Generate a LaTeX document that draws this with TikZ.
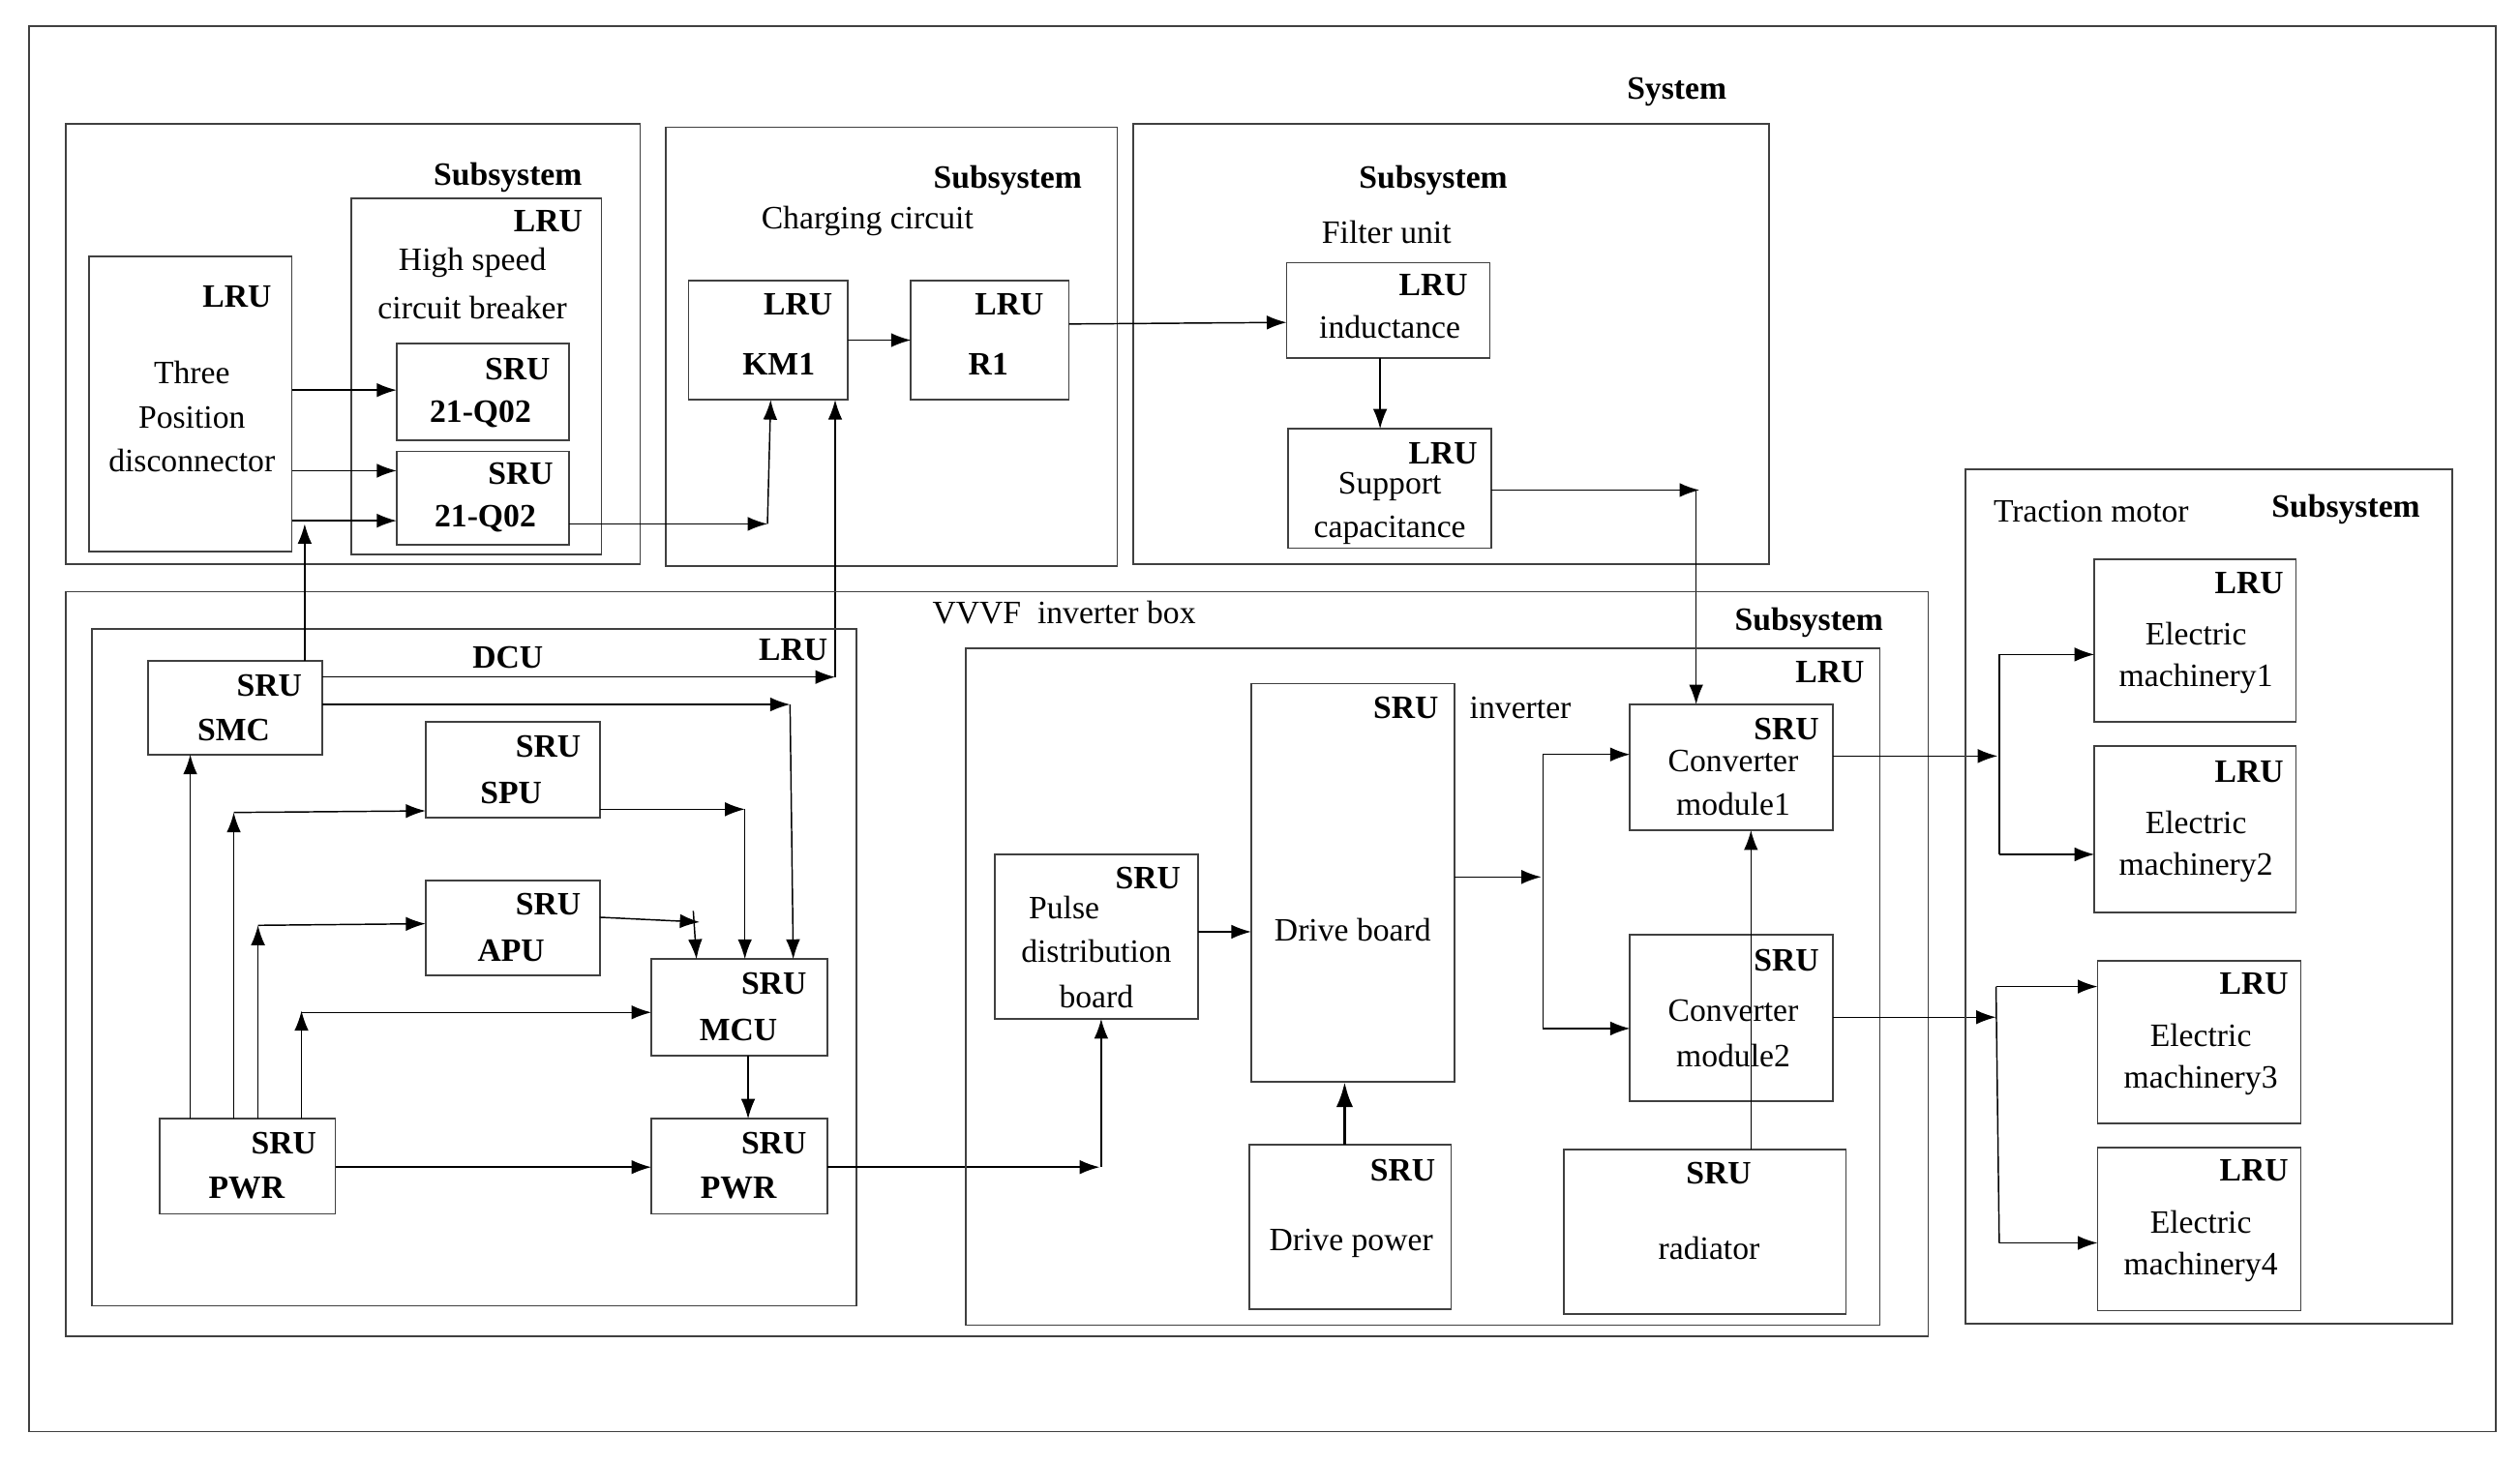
\documentclass[tikz,border=0pt]{standalone}
\usepackage{fontspec}
\setmainfont{Liberation Serif}
\usetikzlibrary{arrows.meta}
\begin{document}
\begin{tikzpicture}[x=0.02cm,y=-0.02cm,
 box/.style={draw=black!75,line width=0.6pt,inner sep=0pt,outer sep=0pt},
 t/.style={inner sep=0pt,font=\fontsize{11.5}{13}\selectfont},
 b/.style={t,font=\fontsize{11.5}{13}\selectfont\bfseries},
 ar/.style={-{Latex[length=7pt,width=5pt]},line width=0.5pt},
 ln/.style={line width=0.5pt}]
\useasboundingbox (0,0) rectangle (1563,908);
\newcommand\bx[5]{\node[box,minimum width={(#4-#2)*0.02cm},minimum height={(#5-#3)*0.02cm}] (#1) at ({(#2+#4)/2},{(#3+#5)/2}) {};}
% outer
\bx{sys}{18}{16}{1548}{888}
\node[b] at (1040,57) {System};
% subsystem 1
\bx{s1}{41}{77}{397}{350}
\node[b] at (315,110) {Subsystem};
\bx{hscb}{218}{123}{373}{344}
\node[b] at (340,137) {LRU};
\node[t] at (293,163) {High speed};
\node[t] at (293,191) {circuit breaker};
\bx{q1}{246}{213}{353}{273}
\node[b] at (321,229) {SRU};\node[b] at (298,257) {21-Q02};
\bx{q2}{246}{280}{353}{338}
\node[b] at (323,294) {SRU};\node[b] at (301,322) {21-Q02};
\bx{tpd}{55}{159}{181}{342}
\node[b] at (147,184) {LRU};
\node[t] at (119,231) {Three};\node[t] at (119,259) {Position};\node[t] at (119,286) {disconnector};
\draw[ar] (181,242) -- (246,242);
\draw[ar] (181,292) -- (246,292);
\draw[ar] (181,323) -- (246,323);
% subsystem 2
\bx{s2}{413}{79}{693}{351}
\node[b] at (625,112) {Subsystem};
\node[t] at (538,137) {Charging circuit};
\bx{km1}{427}{174}{526}{248}
\node[b] at (495,189) {LRU};\node[b] at (483,226) {KM1};
\bx{r1}{565}{174}{663}{248}
\node[b] at (626,189) {LRU};\node[b] at (613,226) {R1};
\draw[ar] (526,211) -- (565,211);
\draw[ar] (353,325) -- (476,325);
\draw[ar] (476,325) -- (478,248);
\draw[ar] (518,420) -- (518,248);
% subsystem 3
\bx{s3}{703}{77}{1097}{350}
\node[b] at (889,112) {Subsystem};
\node[t] at (860,144) {Filter unit};
\bx{ind}{798}{163}{924}{222}
\node[b] at (889,177) {LRU};\node[t] at (862,203) {inductance};
\bx{cap}{799}{266}{925}{340}
\node[b] at (895,281) {LRU};\node[t] at (862,302) {Support};\node[t] at (862,329) {capacitance};
\draw[ar] (663,201) -- (798,200);
\draw[ar] (856,222) -- (856,266);
\draw[ar] (925,304) -- (1054,304);
\draw[ar] (1052,304) -- (1052,437);
% VVVF
\bx{vvvf}{41}{367}{1196}{829}
\node[t] at (660,380) {VVVF\ \ inverter box};
\bx{dcu}{57}{390}{531}{810}
\node[b] at (315,408) {DCU};\node[b] at (492,403) {LRU};
\bx{smc}{92}{410}{200}{468}
\node[b] at (167,425) {SRU};\node[b] at (145,453) {SMC};
\bx{spu}{264}{448}{372}{507}
\node[b] at (340,463) {SRU};\node[b] at (317,492) {SPU};
\bx{apu}{264}{546}{372}{605}
\node[b] at (340,561) {SRU};\node[b] at (317,590) {APU};
\bx{mcu}{404}{595}{513}{655}
\node[b] at (480,610) {SRU};\node[b] at (458,639) {MCU};
\bx{pwl}{99}{694}{208}{753}
\node[b] at (176,709) {SRU};\node[b] at (153,737) {PWR};
\bx{pwr}{404}{694}{513}{753}
\node[b] at (480,709) {SRU};\node[b] at (458,737) {PWR};
\draw[ar] (189,410) -- (189,325);
\draw[ar] (200,420) -- (518,420);
\draw[ar] (200,437) -- (490,437);
\draw[ar] (490,437) -- (492,595);
\draw[ar] (372,502) -- (462,502);
\draw[ar] (462,502) -- (462,595);
\draw[ar] (372,569) -- (434,572);
\draw[ar] (430,565) -- (432,595);
\draw[ar] (118,694) -- (118,468);
\draw[ar] (145,694) -- (145,504);
\draw[ar] (145,504) -- (264,503);
\draw[ar] (160,694) -- (160,574);
\draw[ar] (160,574) -- (264,573);
\draw[ar] (187,694) -- (187,627);
\draw[ar] (187,628) -- (404,628);
\draw[ar] (208,724) -- (404,724);
\draw[ar] (464,655) -- (464,694);
\draw[ar] (513,724) -- (682,724);
\draw[ar] (683,724) -- (683,632);
% inverter subsystem
\node[b] at (1122,386) {Subsystem};
\bx{inv}{599}{402}{1166}{822}
\node[b] at (1135,417) {LRU};
\bx{pulse}{617}{530}{743}{632}
\node[b] at (712,545) {SRU};\node[t] at (660,563) {Pulse};\node[t] at (680,590) {distribution};\node[t] at (680,618) {board};
\bx{drv}{776}{424}{902}{671}
\node[b] at (872,439) {SRU};\node[t] at (943,439) {inverter};\node[t] at (839,577) {Drive board};
\draw[ar] (743,578) -- (776,578);
\bx{dpw}{775}{710}{900}{812}
\node[b] at (870,726) {SRU};\node[t] at (838,771) {Drive power};
\draw[-{Latex[length=9pt,width=6pt]},line width=1.3pt] (834,710) -- (834,671);
\draw[ar] (902,544) -- (956,544);
\draw[ln] (957,468) -- (957,638);
\bx{cv1}{1011}{437}{1137}{515}
\node[b] at (1108,452) {SRU};\node[t] at (1075,472) {Converter};\node[t] at (1075,499) {module1};
\bx{cv2}{1011}{580}{1137}{683}
\node[b] at (1108,596) {SRU};\node[t] at (1075,627) {Converter};\node[t] at (1075,655) {module2};
\draw[ar] (957,468) -- (1011,468);
\draw[ar] (957,638) -- (1011,638);
\bx{rad}{970}{713}{1145}{815}
\node[b] at (1066,728) {SRU};\node[t] at (1060,774) {radiator};
\draw[ar] (1086,713) -- (1086,515);
\draw[ar] (1137,469) -- (1239,469);
\draw[ar] (1137,631) -- (1238,631);
% traction
\bx{tr}{1219}{291}{1521}{821}
\node[t] at (1297,317) {Traction motor};\node[b] at (1455,316) {Subsystem};
\bx{em1}{1299}{347}{1424}{448}
\node[b] at (1395,362) {LRU};\node[t] at (1362,393) {Electric};\node[t] at (1362,421) {machinery1};
\bx{em2}{1299}{463}{1424}{566}
\node[b] at (1395,479) {LRU};\node[t] at (1362,510) {Electric};\node[t] at (1362,538) {machinery2};
\bx{em3}{1301}{596}{1427}{697}
\node[b] at (1398,610) {LRU};\node[t] at (1365,642) {Electric};\node[t] at (1365,670) {machinery3};
\bx{em4}{1301}{712}{1427}{813}
\node[b] at (1398,726) {LRU};\node[t] at (1365,758) {Electric};\node[t] at (1365,786) {machinery4};
\draw[ln] (1240,406) -- (1240,530);
\draw[ar] (1240,406) -- (1299,406);
\draw[ar] (1240,530) -- (1299,530);
\draw[ln] (1238,612) -- (1240,771);
\draw[ar] (1238,612) -- (1301,612);
\draw[ar] (1240,771) -- (1301,771);
\end{tikzpicture}
\end{document}
